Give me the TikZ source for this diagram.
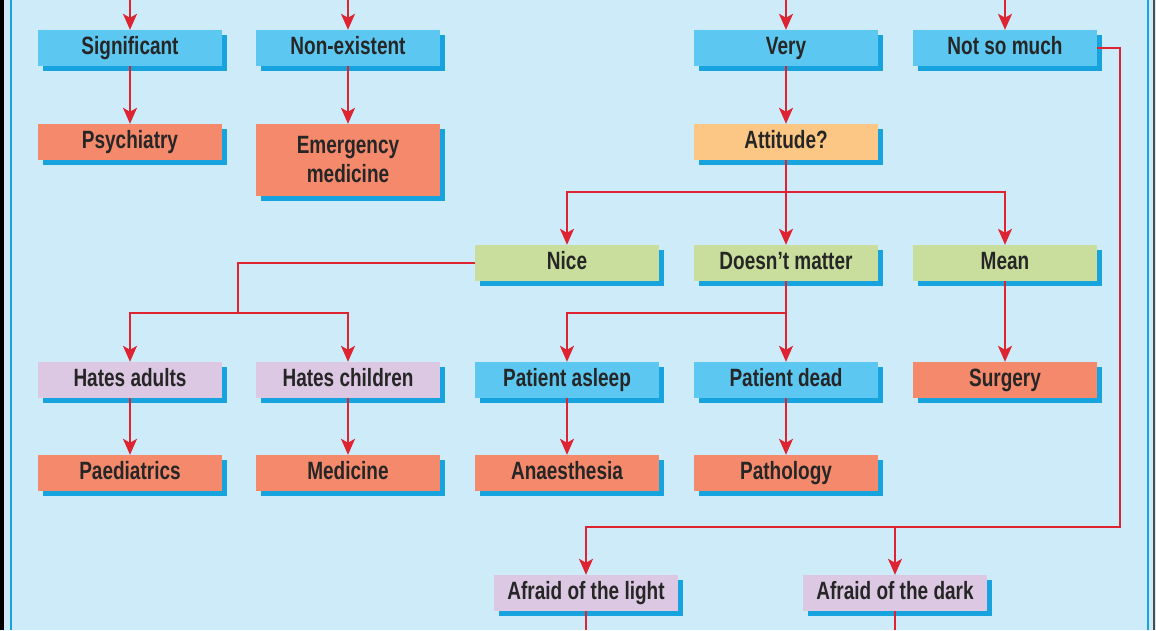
\documentclass[tikz,border=0pt]{standalone}
\usepackage{fontspec}
\setmainfont[FakeStretch=0.76]{Liberation Sans}
\usetikzlibrary{arrows.meta,shadows}
\definecolor{bg}{HTML}{CDEBF9}
\definecolor{bbox}{HTML}{5CC8F2}
\definecolor{sbox}{HTML}{F4896C}
\definecolor{obox}{HTML}{FCC685}
\definecolor{gbox}{HTML}{C9DE9C}
\definecolor{lbox}{HTML}{DCC8E2}
\definecolor{shd}{HTML}{17A4DE}
\definecolor{lnk}{HTML}{DD2430}
\tikzset{
 bx/.style={minimum width=184pt,minimum height=36pt,inner sep=2pt,align=center,
   font=\fontsize{25}{29}\selectfont\bfseries,text=black!85,
   text height=18pt,text depth=5pt,
   drop shadow={shadow xshift=5pt,shadow yshift=-5pt,fill=shd,opacity=1}},
 cb/.style={bx,fill=bbox}, cs/.style={bx,fill=sbox}, co/.style={bx,fill=obox},
 cg/.style={bx,fill=gbox}, cl/.style={bx,fill=lbox},
 ln/.style={draw=lnk,line width=2pt},
 ar/.style={ln,-{Stealth[length=16pt,width=14pt,inset=4pt]}}
}
\begin{document}
\begin{tikzpicture}[x=1pt,y=-1pt]
\fill[bg] (0,0) rectangle (1156,630);
\useasboundingbox (0,0) rectangle (1156,630);
\draw[line width=4pt,black] (2,0) -- (2,630);
\draw[line width=1.5pt,shd] (11,0) -- (11,630);
\draw[line width=1.5pt,shd] (1148,0) -- (1148,630);
\draw[line width=1.5pt,black!70] (1154,0) -- (1154,630);
% nodes
\node[cb] (sig) at (130,48) {Significant};
\node[cb] (non) at (348,48) {Non-existent};
\node[cb] (very) at (786,48) {Very};
\node[cb] (nsm) at (1005,48) {Not so much};
\node[cs] (psy) at (130,142) {Psychiatry};
\node[cs,minimum height=72pt,text height=,text depth=] (emer) at (348,160) {Emergency\\medicine};
\node[co] (att) at (786,142) {Attitude?};
\node[cg] (nice) at (567,263) {Nice};
\node[cg] (dm) at (786,263) {Doesn't matter};
\node[cg] (mean) at (1005,263) {Mean};
\node[cl] (ha) at (130,380) {Hates adults};
\node[cl] (hc) at (348,380) {Hates children};
\node[cb] (pa) at (567,380) {Patient asleep};
\node[cb] (pd) at (786,380) {Patient dead};
\node[cs] (sur) at (1005,380) {Surgery};
\node[cs] (pae) at (130,473) {Paediatrics};
\node[cs] (med) at (348,473) {Medicine};
\node[cs] (ana) at (567,473) {Anaesthesia};
\node[cs] (pat) at (786,473) {Pathology};
\node[cl] (al) at (586,593) {Afraid of the light};
\node[cl] (ad) at (895,593) {Afraid of the dark};
% free ends
\coordinate (t1) at (130,0); \coordinate (t2) at (348,0);
\coordinate (t3) at (786,0); \coordinate (t4) at (1005,0);
\coordinate (b1) at (586,630); \coordinate (b2) at (895,630);
% connectors
\draw[ar] (t1) -- (sig); \draw[ar] (t2) -- (non);
\draw[ar] (t3) -- (very); \draw[ar] (t4) -- (nsm);
\draw[ar] (sig) -- (psy); \draw[ar] (non) -- (emer);
\draw[ar] (very) -- (att);
\draw[ln] (att.south) -- ++(0,49);
\draw[ar] (786,192) -| (nice.north);
\draw[ar] (att) -- (dm);
\draw[ar] (786,192) -| (mean.north);
\draw[ar] (mean) -- (sur);
\draw[ln] (nice.west) -| (238,313);
\draw[ar] (238,313) -| (ha.north);
\draw[ar] (238,313) -| (hc.north);
\draw[ar] (dm) -- (pd);
\draw[ar] (786,313) -| (pa.north);
\draw[ar] (ha) -- (pae); \draw[ar] (hc) -- (med);
\draw[ar] (pa) -- (ana); \draw[ar] (pd) -- (pat);
\draw[ln] (nsm.east) -| (1120,527) -- (895,527);
\draw[ar] (895,527) -| (al.north);
\draw[ar] (895,527) -- (ad.north);
\draw[ln] (al) -- (b1); \draw[ln] (ad) -- (b2);
\end{tikzpicture}
\end{document}
